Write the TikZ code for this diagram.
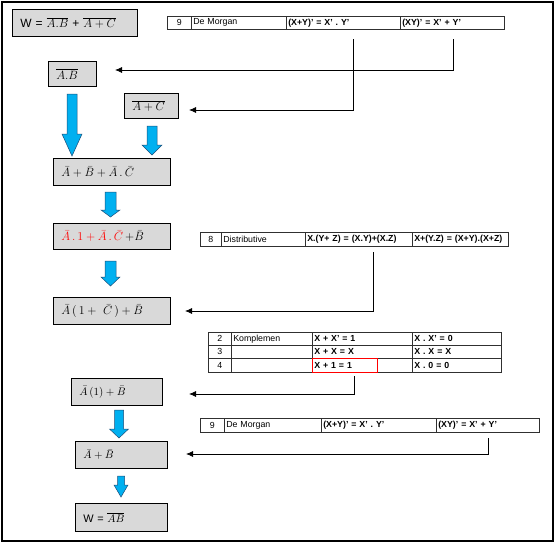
\documentclass[tikz,border=0pt]{standalone}
\usepackage[no-math]{fontspec}
\setmainfont{Liberation Sans}
\usetikzlibrary{arrows.meta}
\definecolor{boxgray}{HTML}{D9D9D9}
\definecolor{skyblue}{HTML}{00B0F0}
\definecolor{darkblue}{HTML}{1F4E79}
\definecolor{tblline}{HTML}{303030}
\newcommand\tcell[7]{\pgfmathsetmacro\tw{#4-4}\node[cell, minimum width=#4pt, minimum height=#5pt, text width=\tw pt, align=#6] (#1) at (#2,#3) {#7};}
\newcommand\blarr[6]{\draw[blarrow] (#1-#3,#2) -- (#1+#3,#2) -- (#1+#3,#5) -- (#1+#4,#5) -- (#1,#6) -- (#1-#4,#5) -- (#1-#3,#5) -- cycle;}
\begin{document}
\begin{tikzpicture}[x=1pt,y=-1pt,
  box/.style={draw, fill=boxgray, line width=0.8pt, anchor=north west, inner xsep=8pt, inner ysep=0pt, align=left, font=\fontsize{12}{14}\selectfont},
  cell/.style={draw=tblline, line width=0.6pt, anchor=north west, inner xsep=2pt, inner ysep=0pt, font=\fontsize{8.8}{10}\selectfont},
  conn/.style={line width=0.8pt, -{Latex[length=7pt,width=6pt]}},
  blarrow/.style={fill=skyblue, draw=darkblue, line width=0.5pt}]
\useasboundingbox (0,0) rectangle (555,544);
\draw[line width=1.3pt] (2,2) rectangle (553,541);

% boxes
\node[box, text width=109pt, minimum height=27pt] (w) at (12,9) {W = $\overline{A.B}$ + $\overline{A+C}$};
\node[box, text width=32pt, minimum height=25pt] (ab) at (48,61) {$\overline{A.B}$};
\node[box, text width=38pt, minimum height=25pt] (ac) at (124,93) {$\overline{A+C}$};
\node[box, text width=101pt, minimum height=27pt] (b3) at (53,158) {$\bar{A}+\bar{B}+\bar{A}\,.\,\bar{C}$};
\node[box, text width=101pt, minimum height=26pt] (b4) at (53,223) {\textcolor{red}{$\bar{A}\,.\,1+\bar{A}\,.\,\bar{C}$}$\,+\bar{B}$};
\node[box, text width=101pt, minimum height=27pt] (b5) at (53,297) {$\bar{A}\,(\,1+\ \bar{C}\,)+\bar{B}$};
\node[box, text width=75pt, minimum height=27pt, font=\fontsize{10.95}{13}\selectfont] (b6) at (71,378) {$\bar{A}\,(1)+\bar{B}$};
\node[box, text width=76pt, minimum height=27pt, font=\fontsize{10.95}{13}\selectfont] (b7) at (75,441) {$\bar{A}+\bar{B}$};
\node[box, text width=76pt, minimum height=28pt, font=\fontsize{10.95}{13}\selectfont] (b8) at (75,503) {W = $\overline{AB}$};

% table 1
\tcell{t1a}{167}{16}{24}{13}{center}{9}
\tcell{t1b}{191}{16}{95}{13}{left}{De Morgan}
\tcell{t1c}{286}{16}{114}{13}{left}{\bfseries (X+Y)' = X' . Y'}
\tcell{t1d}{400}{16}{104}{13}{left}{\bfseries (XY)' = X' + Y'}

% table 8
\tcell{t2a}{200}{232}{21}{14}{center}{8}
\tcell{t2b}{221}{232}{84}{14}{left}{Distributive}
\tcell{t2c}{305}{232}{107}{14}{left}{\bfseries X.(Y+ Z) = (X.Y)+(X.Z)}
\tcell{t2d}{412}{232}{96}{14}{left}{\bfseries X+(Y.Z) = (X+Y).(X+Z)}

% table komplemen
\tcell{t3a}{208}{332}{23}{13}{center}{2}
\tcell{t3b}{231}{332}{81}{13}{left}{Komplemen}
\tcell{t3c}{312}{332}{100}{13}{left}{\bfseries X + X' = 1}
\tcell{t3d}{412}{332}{89}{13}{left}{\bfseries X . X' = 0}
\tcell{t4a}{208}{345}{23}{13}{center}{3}
\tcell{t4b}{231}{345}{81}{13}{left}{}
\tcell{t4c}{312}{345}{100}{13}{left}{\bfseries X + X = X}
\tcell{t4d}{412}{345}{89}{13}{left}{\bfseries X . X = X}
\tcell{t5a}{208}{358}{23}{14}{center}{4}
\tcell{t5b}{231}{358}{81}{14}{left}{}
\tcell{t5c}{312}{358}{100}{14}{left}{\bfseries X + 1 = 1}
\tcell{t5d}{412}{358}{89}{14}{left}{\bfseries X . 0 = 0}
\node[draw=red, line width=0.8pt, anchor=north west, minimum width=65pt, minimum height=14pt, inner sep=0pt] (redbox) at (312,358) {};

% bottom table
\tcell{t6a}{200}{418}{24}{14}{center}{9}
\tcell{t6b}{224}{418}{97}{14}{left}{De Morgan}
\tcell{t6c}{321}{418}{115}{14}{left}{\bfseries (X+Y)' = X' . Y'}
\tcell{t6d}{436}{418}{103}{14}{left}{\bfseries (XY)' = X' + Y'}

% connectors
\coordinate (s1) at (453,39); \coordinate (e1) at (115,70);
\coordinate (s2) at (353,39); \coordinate (e2) at (189,110);
\coordinate (s3) at (373,252); \coordinate (e3) at (185,311);
\coordinate (s4) at (354,376); \coordinate (e4) at (189,394);
\coordinate (s5) at (488,438); \coordinate (e5) at (186,454);
\draw[conn] (s1) |- (e1);
\draw[conn] (s2) |- (e2);
\draw[conn] (s3) |- (e3);
\draw[conn] (s4) |- (e4);
\draw[conn] (s5) |- (e5);

% blue arrows
\blarr{72}{94}{5}{10}{134}{156}
\blarr{152}{126}{5}{10}{145}{155}
\blarr{110.5}{192}{5.5}{9.5}{210}{217}
\blarr{110.5}{261}{5.5}{9.5}{277}{286}
\blarr{119}{410}{4.5}{9.5}{429}{438}
\blarr{121}{476}{3.5}{7}{485}{497}
\end{tikzpicture}
\end{document}
